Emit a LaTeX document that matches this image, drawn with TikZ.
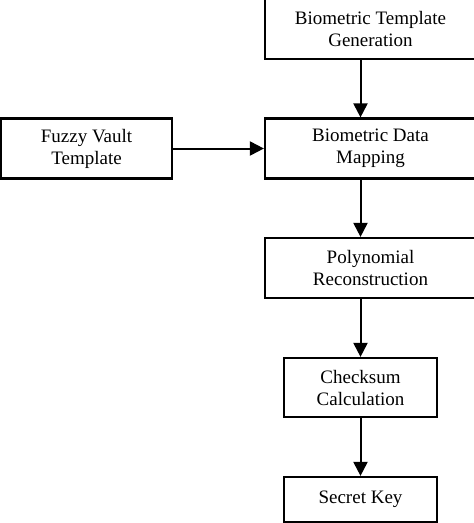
\documentclass[tikz,border=0pt]{standalone}
\usepackage{fontspec}
\setmainfont{Liberation Serif}
\usetikzlibrary{arrows.meta}
\tikzset{
	block/.style={draw, line width=2.2pt, align=center, inner sep=0pt, font=\fontsize{19}{22}\selectfont},
	flow/.style={line width=2pt, -{Triangle[length=14pt,width=14pt]}}
}
\begin{document}
\begin{tikzpicture}[x=1pt,y=-1pt]
	\useasboundingbox (0,0) rectangle (474,523);
	\clip (0,0) rectangle (474,523);
	\node[block, minimum width=211pt, minimum height=61pt] (gen) at (370.5,28.5) {Biometric Template\\Generation};
	\node[block, minimum width=211pt, minimum height=60pt] (map) at (370.5,148.5) {Biometric Data\\Mapping};
	\node[block, minimum width=171pt, minimum height=60pt] (vault) at (86.5,148.5) {Fuzzy Vault\\Template};
	\node[block, minimum width=211pt, minimum height=60pt] (rec) at (370.5,268) {Polynomial\\Reconstruction};
	\node[block, minimum width=153pt, minimum height=59pt] (chk) at (360.5,387.5) {Checksum\\Calculation};
	\node[block, minimum width=153pt, minimum height=45pt] (key) at (360.5,499.5) {Secret Key};
	\path[draw,flow] (gen.south -| chk.north) -- (map.north -| chk.north);
	\path[draw,flow] (vault.east) -- (map.west);
	\path[draw,flow] (map.south -| chk.north) -- (rec.north -| chk.north);
	\path[draw,flow] (rec.south -| chk.north) -- (chk.north);
	\path[draw,flow] (chk.south) -- (key.north);
\end{tikzpicture}
\end{document}
